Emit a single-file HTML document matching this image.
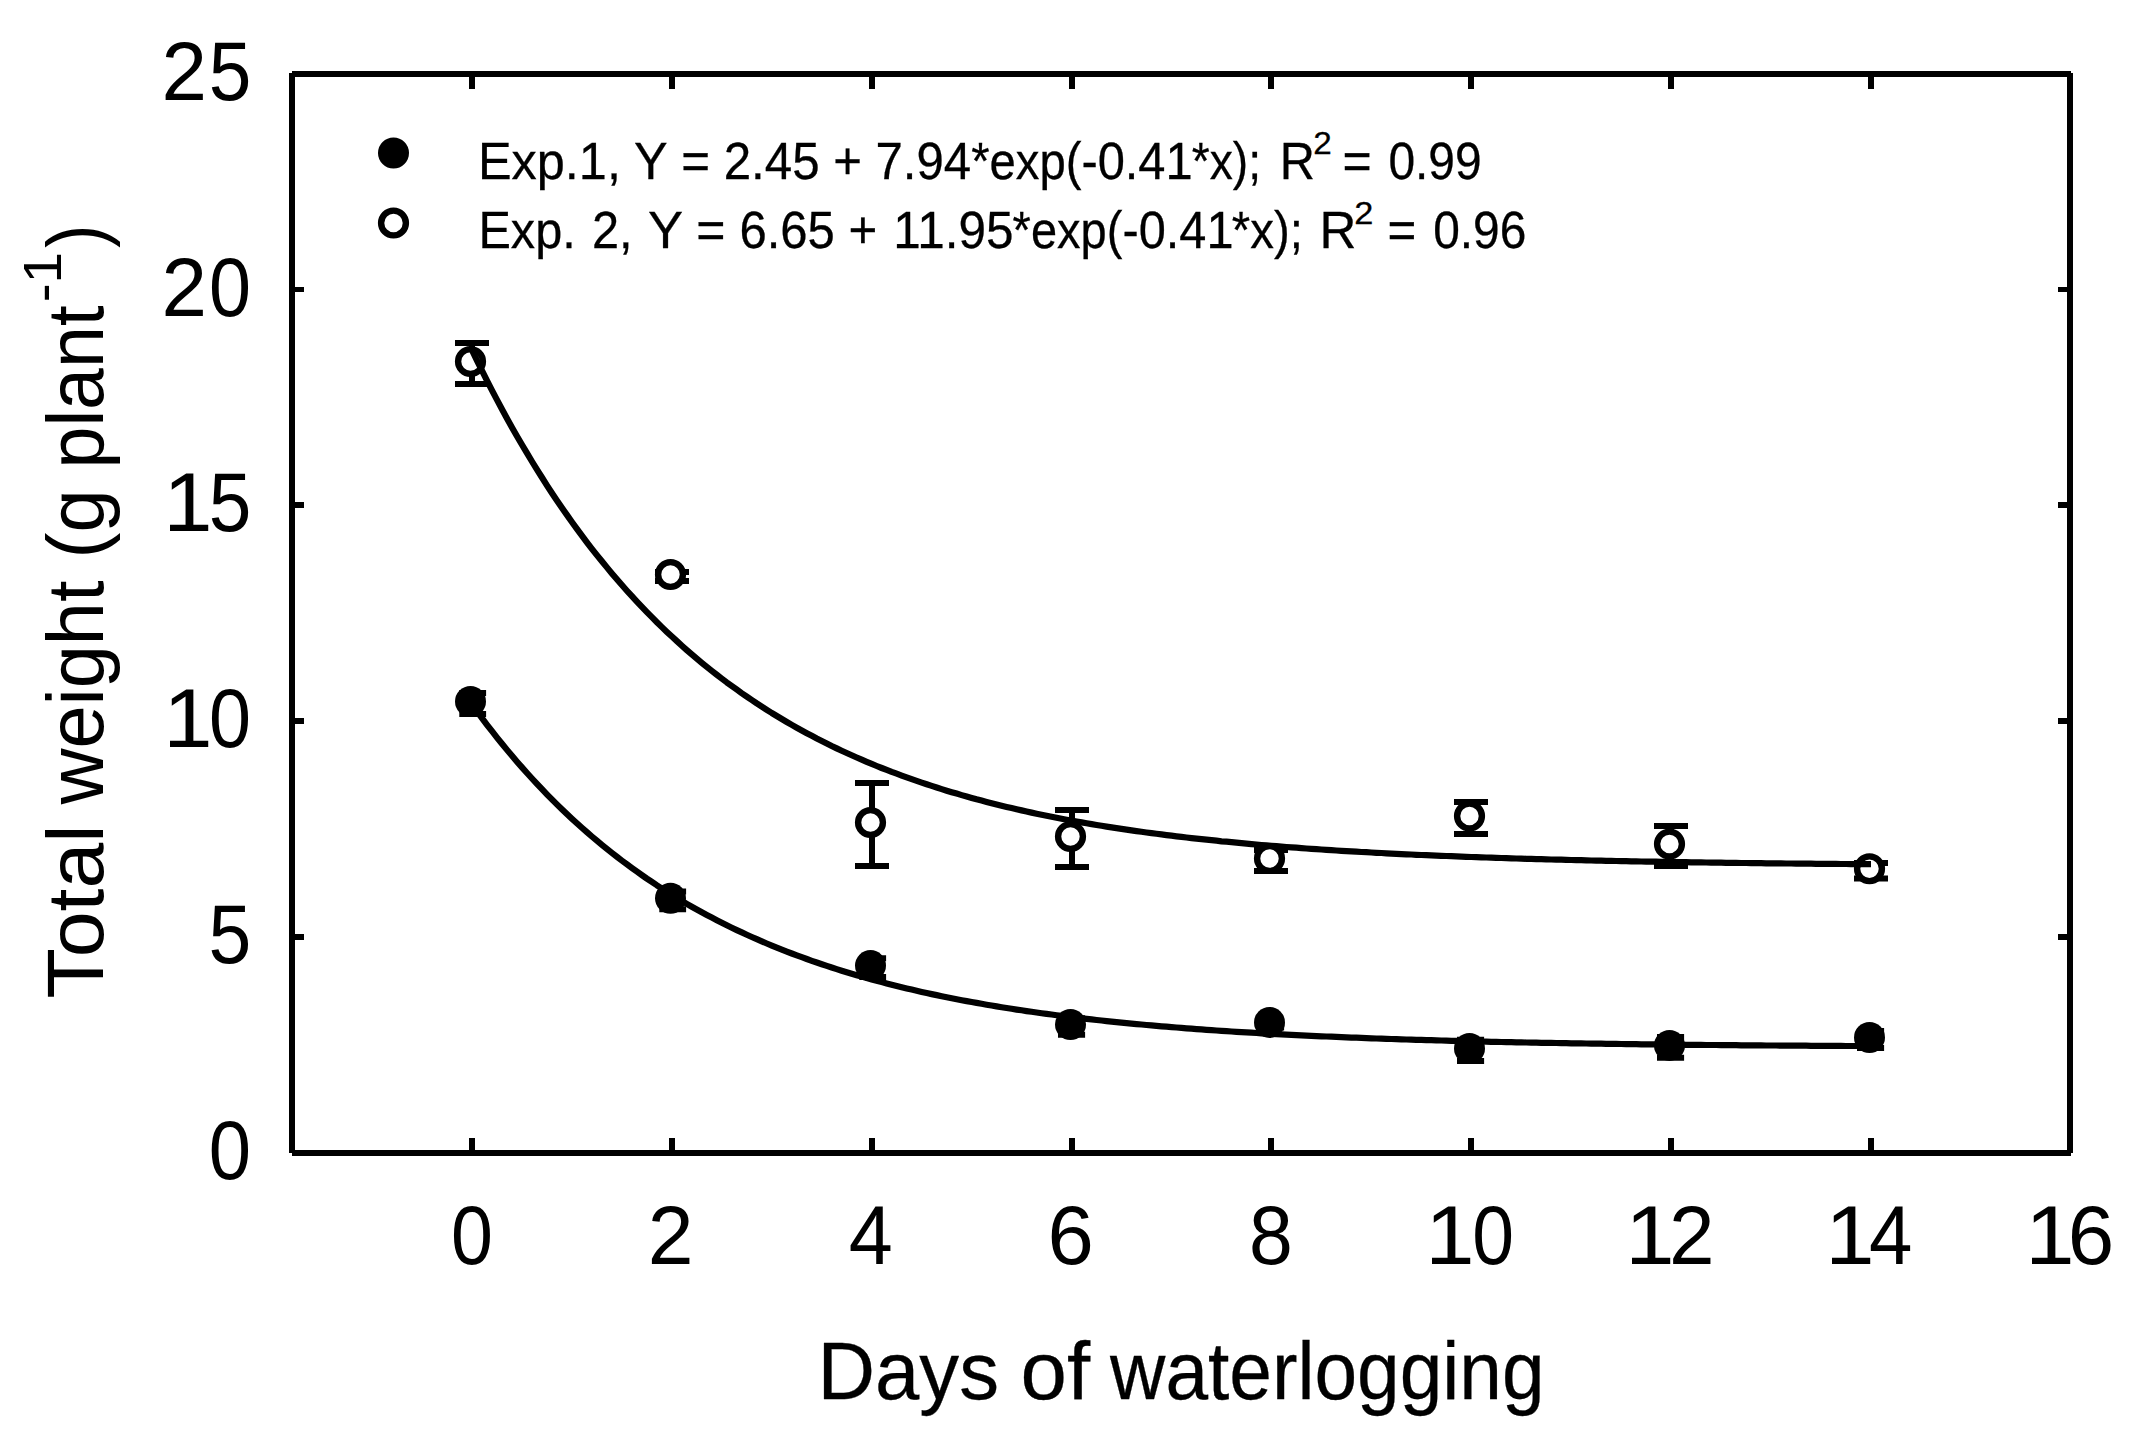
<!DOCTYPE html>
<html lang="en"><head><meta charset="utf-8"><title>Total weight vs days of waterlogging</title>
<style>html,body{margin:0;padding:0;background:#fff}body{width:2149px;height:1443px;overflow:hidden}svg{display:block}text{font-family:"Liberation Sans",sans-serif;fill:#000}</style>
</head><body>
<svg width="2149" height="1443" viewBox="0 0 2149 1443">
<rect width="2149" height="1443" fill="#fff"/>
<g stroke="#000" stroke-width="6" stroke-linecap="butt" fill="none">
<line x1="292" y1="74" x2="2071" y2="74"/>
<line x1="292" y1="1153" x2="2071" y2="1153"/>
<line x1="292" y1="73" x2="292" y2="1153"/>
<line x1="2070" y1="73" x2="2070" y2="1153"/>
<line x1="472" y1="74" x2="472" y2="89"/>
<line x1="472" y1="1138" x2="472" y2="1153"/>
<line x1="672" y1="74" x2="672" y2="89"/>
<line x1="672" y1="1138" x2="672" y2="1153"/>
<line x1="872" y1="74" x2="872" y2="89"/>
<line x1="872" y1="1138" x2="872" y2="1153"/>
<line x1="1072" y1="74" x2="1072" y2="89"/>
<line x1="1072" y1="1138" x2="1072" y2="1153"/>
<line x1="1271" y1="74" x2="1271" y2="89"/>
<line x1="1271" y1="1138" x2="1271" y2="1153"/>
<line x1="1471" y1="74" x2="1471" y2="89"/>
<line x1="1471" y1="1138" x2="1471" y2="1153"/>
<line x1="1671" y1="74" x2="1671" y2="89"/>
<line x1="1671" y1="1138" x2="1671" y2="1153"/>
<line x1="1871" y1="74" x2="1871" y2="89"/>
<line x1="1871" y1="1138" x2="1871" y2="1153"/>
</g>
<g stroke="#000" stroke-linecap="butt" fill="none">
<line x1="292" y1="289.5" x2="304" y2="289.5" stroke-width="5"/>
<line x1="2058" y1="289.5" x2="2070" y2="289.5" stroke-width="5"/>
<line x1="292" y1="505" x2="304" y2="505" stroke-width="6"/>
<line x1="2058" y1="505" x2="2070" y2="505" stroke-width="6"/>
<line x1="292" y1="721" x2="304" y2="721" stroke-width="6"/>
<line x1="2058" y1="721" x2="2070" y2="721" stroke-width="6"/>
<line x1="292" y1="937" x2="304" y2="937" stroke-width="6"/>
<line x1="2058" y1="937" x2="2070" y2="937" stroke-width="6"/>
</g>
<g stroke="#000" stroke-width="6" stroke-linecap="butt" fill="none">
<path d="M455 343H489M455 384H489M472 343V384"/>
<path d="M655 572H689M655 581H689M672 572V581"/>
<path d="M855 783H889M855 866H889M872 783V866"/>
<path d="M1055 810H1089M1055 867H1089M1072 810V867"/>
<path d="M1254 850H1288M1254 871H1288M1271 850V871"/>
<path d="M1454 802H1488M1454 834H1488M1471 802V834"/>
<path d="M1654 826H1688M1654 866H1688M1671 826V866"/>
<path d="M1854 863H1888M1854 878.5H1888M1871 863V878.5"/>
<path d="M459.3 693H486.1M459.3 714H486.1M472 693V714"/>
<path d="M659.3 891.4H686.1M659.3 909.2H686.1M672 891.4V909.2"/>
<path d="M859.3 958.2H886.1M859.3 977H886.1M872 958.2V977"/>
<path d="M1058 1018.3H1085.1M1058 1034.7H1085.1M1072 1018.3V1034.7"/>
<path d="M1257 1021.4H1284.1M1257 1027.4H1284.1M1271 1021.4V1027.4"/>
<path d="M1457 1039.8H1484.1M1457 1061H1484.1M1471 1039.8V1061"/>
<path d="M1657 1037H1684.1M1657 1057.8H1684.1M1671 1037V1057.8"/>
<path d="M1857 1031H1884.1M1857 1048H1884.1M1871 1031V1048"/>
</g>
<g stroke="#000" stroke-width="6.4" fill="#fff">
<circle cx="470.5" cy="361.5" r="12.4"/>
<circle cx="670.5" cy="574.5" r="12.4"/>
<circle cx="870.5" cy="822.5" r="12.4"/>
<circle cx="1070.5" cy="836.5" r="12.4"/>
<circle cx="1269.5" cy="858.5" r="12.4"/>
<circle cx="1469.5" cy="816" r="12.4"/>
<circle cx="1669.5" cy="844" r="12.4"/>
<circle cx="1869.5" cy="868.75" r="12.4"/>
</g>
<g fill="#000">
<circle cx="470.5" cy="701.5" r="15.5"/>
<circle cx="670.5" cy="898.3" r="15.5"/>
<circle cx="870.5" cy="965.6" r="15.5"/>
<circle cx="1070.5" cy="1024.5" r="15.5"/>
<circle cx="1269.5" cy="1022.4" r="15.5"/>
<circle cx="1469.5" cy="1048.4" r="15.5"/>
<circle cx="1669.5" cy="1045.4" r="15.5"/>
<circle cx="1869.5" cy="1037.5" r="15.5"/>
</g>
<g stroke="#000" stroke-width="6.2" stroke-linecap="butt" stroke-linejoin="round" fill="none">
<polyline points="472.0,350.2 477.0,360.6 482.0,370.7 487.0,380.6 492.0,390.4 497.0,399.9 502.0,409.2 507.0,418.4 512.0,427.4 517.0,436.2 522.0,444.8 527.0,453.2 532.0,461.5 537.0,469.6 542.0,477.5 546.9,485.3 551.9,493.0 556.9,500.4 561.9,507.8 566.9,514.9 571.9,522.0 576.9,528.9 581.9,535.6 586.9,542.3 591.9,548.8 596.9,555.1 601.9,561.3 606.9,567.4 611.9,573.4 616.9,579.3 621.9,585.0 626.9,590.7 631.9,596.2 636.9,601.6 641.9,606.9 646.9,612.1 651.9,617.2 656.9,622.2 661.9,627.1 666.9,631.9 671.9,636.5 676.9,641.1 681.9,645.7 686.8,650.1 691.8,654.4 696.8,658.6 701.8,662.8 706.8,666.9 711.8,670.9 716.8,674.8 721.8,678.6 726.8,682.4 731.8,686.0 736.8,689.6 741.8,693.2 746.8,696.6 751.8,700.0 756.8,703.4 761.8,706.6 766.8,709.8 771.8,713.0 776.8,716.0 781.8,719.0 786.8,722.0 791.8,724.9 796.8,727.7 801.8,730.5 806.8,733.2 811.8,735.8 816.8,738.5 821.8,741.0 826.8,743.5 831.7,746.0 836.7,748.4 841.7,750.7 846.7,753.0 851.7,755.3 856.7,757.5 861.7,759.7 866.7,761.8 871.7,763.9 876.7,766.0 881.7,768.0 886.7,769.9 891.7,771.9 896.7,773.7 901.7,775.6 906.7,777.4 911.7,779.2 916.7,780.9 921.7,782.6 926.7,784.3 931.7,785.9 936.7,787.5 941.7,789.1 946.7,790.7 951.7,792.2 956.7,793.6 961.7,795.1 966.7,796.5 971.7,797.9 976.6,799.3 981.6,800.6 986.6,801.9 991.6,803.2 996.6,804.5 1001.6,805.7 1006.6,806.9 1011.6,808.1 1016.6,809.3 1021.6,810.4 1026.6,811.5 1031.6,812.6 1036.6,813.7 1041.6,814.7 1046.6,815.7 1051.6,816.7 1056.6,817.7 1061.6,818.7 1066.6,819.7 1071.6,820.6 1076.6,821.5 1081.6,822.4 1086.6,823.3 1091.6,824.1 1096.6,825.0 1101.6,825.8 1106.6,826.6 1111.6,827.4 1116.5,828.1 1121.5,828.9 1126.5,829.6 1131.5,830.4 1136.5,831.1 1141.5,831.8 1146.5,832.5 1151.5,833.1 1156.5,833.8 1161.5,834.4 1166.5,835.1 1171.5,835.7 1176.5,836.3 1181.5,836.9 1186.5,837.5 1191.5,838.1 1196.5,838.6 1201.5,839.2 1206.5,839.7 1211.5,840.2 1216.5,840.7 1221.5,841.3 1226.5,841.7 1231.5,842.2 1236.5,842.7 1241.5,843.2 1246.5,843.6 1251.5,844.1 1256.5,844.5 1261.4,845.0 1266.4,845.4 1271.4,845.8 1276.4,846.2 1281.4,846.6 1286.4,847.0 1291.4,847.4 1296.4,847.7 1301.4,848.1 1306.4,848.5 1311.4,848.8 1316.4,849.2 1321.4,849.5 1326.4,849.8 1331.4,850.1 1336.4,850.5 1341.4,850.8 1346.4,851.1 1351.4,851.4 1356.4,851.7 1361.4,852.0 1366.4,852.2 1371.4,852.5 1376.4,852.8 1381.4,853.0 1386.4,853.3 1391.4,853.6 1396.4,853.8 1401.3,854.1 1406.3,854.3 1411.3,854.5 1416.3,854.8 1421.3,855.0 1426.3,855.2 1431.3,855.4 1436.3,855.6 1441.3,855.8 1446.3,856.0 1451.3,856.2 1456.3,856.4 1461.3,856.6 1466.3,856.8 1471.3,857.0 1476.3,857.2 1481.3,857.4 1486.3,857.5 1491.3,857.7 1496.3,857.9 1501.3,858.0 1506.3,858.2 1511.3,858.3 1516.3,858.5 1521.3,858.6 1526.3,858.8 1531.3,858.9 1536.3,859.1 1541.3,859.2 1546.2,859.4 1551.2,859.5 1556.2,859.6 1561.2,859.7 1566.2,859.9 1571.2,860.0 1576.2,860.1 1581.2,860.2 1586.2,860.3 1591.2,860.5 1596.2,860.6 1601.2,860.7 1606.2,860.8 1611.2,860.9 1616.2,861.0 1621.2,861.1 1626.2,861.2 1631.2,861.3 1636.2,861.4 1641.2,861.5 1646.2,861.6 1651.2,861.7 1656.2,861.7 1661.2,861.8 1666.2,861.9 1671.2,862.0 1676.2,862.1 1681.2,862.1 1686.1,862.2 1691.1,862.3 1696.1,862.4 1701.1,862.4 1706.1,862.5 1711.1,862.6 1716.1,862.7 1721.1,862.7 1726.1,862.8 1731.1,862.9 1736.1,862.9 1741.1,863.0 1746.1,863.0 1751.1,863.1 1756.1,863.2 1761.1,863.2 1766.1,863.3 1771.1,863.3 1776.1,863.4 1781.1,863.4 1786.1,863.5 1791.1,863.5 1796.1,863.6 1801.1,863.6 1806.1,863.7 1811.1,863.7 1816.1,863.8 1821.1,863.8 1826.1,863.9 1831.0,863.9 1836.0,863.9 1841.0,864.0 1846.0,864.0 1851.0,864.1 1856.0,864.1 1861.0,864.1 1866.0,864.2 1871.0,864.2"/>
<polyline points="472.0,704.6 477.0,711.4 482.0,718.2 487.0,724.8 492.0,731.2 497.0,737.6 502.0,743.8 507.0,749.9 512.0,755.8 517.0,761.7 522.0,767.4 527.0,773.0 532.0,778.5 537.0,783.9 542.0,789.2 546.9,794.3 551.9,799.4 556.9,804.4 561.9,809.2 566.9,814.0 571.9,818.7 576.9,823.3 581.9,827.8 586.9,832.2 591.9,836.5 596.9,840.7 601.9,844.8 606.9,848.9 611.9,852.9 616.9,856.8 621.9,860.6 626.9,864.3 631.9,868.0 636.9,871.6 641.9,875.1 646.9,878.6 651.9,881.9 656.9,885.3 661.9,888.5 666.9,891.7 671.9,894.8 676.9,897.9 681.9,900.9 686.8,903.8 691.8,906.7 696.8,909.5 701.8,912.3 706.8,915.0 711.8,917.6 716.8,920.2 721.8,922.8 726.8,925.3 731.8,927.7 736.8,930.1 741.8,932.4 746.8,934.7 751.8,937.0 756.8,939.2 761.8,941.4 766.8,943.5 771.8,945.6 776.8,947.6 781.8,949.6 786.8,951.6 791.8,953.5 796.8,955.4 801.8,957.2 806.8,959.0 811.8,960.8 816.8,962.5 821.8,964.2 826.8,965.9 831.7,967.5 836.7,969.1 841.7,970.7 846.7,972.2 851.7,973.7 856.7,975.2 861.7,976.6 866.7,978.1 871.7,979.4 876.7,980.8 881.7,982.1 886.7,983.4 891.7,984.7 896.7,986.0 901.7,987.2 906.7,988.4 911.7,989.6 916.7,990.7 921.7,991.9 926.7,993.0 931.7,994.1 936.7,995.1 941.7,996.2 946.7,997.2 951.7,998.2 956.7,999.2 961.7,1000.2 966.7,1001.1 971.7,1002.0 976.6,1002.9 981.6,1003.8 986.6,1004.7 991.6,1005.5 996.6,1006.4 1001.6,1007.2 1006.6,1008.0 1011.6,1008.8 1016.6,1009.6 1021.6,1010.3 1026.6,1011.1 1031.6,1011.8 1036.6,1012.5 1041.6,1013.2 1046.6,1013.9 1051.6,1014.5 1056.6,1015.2 1061.6,1015.8 1066.6,1016.5 1071.6,1017.1 1076.6,1017.7 1081.6,1018.3 1086.6,1018.9 1091.6,1019.4 1096.6,1020.0 1101.6,1020.5 1106.6,1021.1 1111.6,1021.6 1116.5,1022.1 1121.5,1022.6 1126.5,1023.1 1131.5,1023.6 1136.5,1024.1 1141.5,1024.5 1146.5,1025.0 1151.5,1025.4 1156.5,1025.9 1161.5,1026.3 1166.5,1026.7 1171.5,1027.1 1176.5,1027.5 1181.5,1027.9 1186.5,1028.3 1191.5,1028.7 1196.5,1029.1 1201.5,1029.4 1206.5,1029.8 1211.5,1030.1 1216.5,1030.5 1221.5,1030.8 1226.5,1031.2 1231.5,1031.5 1236.5,1031.8 1241.5,1032.1 1246.5,1032.4 1251.5,1032.7 1256.5,1033.0 1261.4,1033.3 1266.4,1033.6 1271.4,1033.8 1276.4,1034.1 1281.4,1034.4 1286.4,1034.6 1291.4,1034.9 1296.4,1035.1 1301.4,1035.4 1306.4,1035.6 1311.4,1035.8 1316.4,1036.1 1321.4,1036.3 1326.4,1036.5 1331.4,1036.7 1336.4,1036.9 1341.4,1037.1 1346.4,1037.4 1351.4,1037.6 1356.4,1037.7 1361.4,1037.9 1366.4,1038.1 1371.4,1038.3 1376.4,1038.5 1381.4,1038.7 1386.4,1038.8 1391.4,1039.0 1396.4,1039.2 1401.3,1039.3 1406.3,1039.5 1411.3,1039.6 1416.3,1039.8 1421.3,1039.9 1426.3,1040.1 1431.3,1040.2 1436.3,1040.4 1441.3,1040.5 1446.3,1040.7 1451.3,1040.8 1456.3,1040.9 1461.3,1041.0 1466.3,1041.2 1471.3,1041.3 1476.3,1041.4 1481.3,1041.5 1486.3,1041.6 1491.3,1041.8 1496.3,1041.9 1501.3,1042.0 1506.3,1042.1 1511.3,1042.2 1516.3,1042.3 1521.3,1042.4 1526.3,1042.5 1531.3,1042.6 1536.3,1042.7 1541.3,1042.8 1546.2,1042.9 1551.2,1042.9 1556.2,1043.0 1561.2,1043.1 1566.2,1043.2 1571.2,1043.3 1576.2,1043.4 1581.2,1043.4 1586.2,1043.5 1591.2,1043.6 1596.2,1043.7 1601.2,1043.7 1606.2,1043.8 1611.2,1043.9 1616.2,1043.9 1621.2,1044.0 1626.2,1044.1 1631.2,1044.1 1636.2,1044.2 1641.2,1044.3 1646.2,1044.3 1651.2,1044.4 1656.2,1044.4 1661.2,1044.5 1666.2,1044.5 1671.2,1044.6 1676.2,1044.7 1681.2,1044.7 1686.1,1044.8 1691.1,1044.8 1696.1,1044.9 1701.1,1044.9 1706.1,1045.0 1711.1,1045.0 1716.1,1045.0 1721.1,1045.1 1726.1,1045.1 1731.1,1045.2 1736.1,1045.2 1741.1,1045.3 1746.1,1045.3 1751.1,1045.3 1756.1,1045.4 1761.1,1045.4 1766.1,1045.5 1771.1,1045.5 1776.1,1045.5 1781.1,1045.6 1786.1,1045.6 1791.1,1045.6 1796.1,1045.7 1801.1,1045.7 1806.1,1045.7 1811.1,1045.8 1816.1,1045.8 1821.1,1045.8 1826.1,1045.8 1831.0,1045.9 1836.0,1045.9 1841.0,1045.9 1846.0,1046.0 1851.0,1046.0 1856.0,1046.0 1861.0,1046.0 1866.0,1046.1 1871.0,1046.1"/>
</g>
<circle cx="393.5" cy="153" r="15.5" fill="#000"/>
<circle cx="393.5" cy="223" r="12.4" fill="#fff" stroke="#000" stroke-width="6.4"/>
<g>
<text id="leg1" stroke="#000" stroke-width="0.3"><tspan x="478.0" y="178.7" font-size="52" textLength="189.6" lengthAdjust="spacingAndGlyphs">Exp.1, Y</tspan> <tspan x="681.2" y="178.7" font-size="52" textLength="138.4" lengthAdjust="spacingAndGlyphs">= 2.45</tspan> <tspan x="833.2" y="178.7" font-size="52" textLength="138.0" lengthAdjust="spacingAndGlyphs">+ 7.94</tspan><tspan x="971.2" y="178.7" font-size="52" textLength="110.3" lengthAdjust="spacingAndGlyphs">*exp(</tspan><tspan x="1081.4" y="178.7" font-size="52" textLength="111.3" lengthAdjust="spacingAndGlyphs">-0.41</tspan><tspan x="1191.7" y="178.7" font-size="52" textLength="69.3" lengthAdjust="spacingAndGlyphs">*x);</tspan> <tspan x="1279.7" y="178.7" font-size="52" textLength="35.2" lengthAdjust="spacingAndGlyphs">R</tspan><tspan x="1313.3" y="153.6" font-size="31" textLength="18.5" lengthAdjust="spacingAndGlyphs">2</tspan> <tspan x="1342.4" y="178.7" font-size="52" textLength="29.2" lengthAdjust="spacingAndGlyphs">=</tspan> <tspan x="1388.4" y="178.7" font-size="52" textLength="93.3" lengthAdjust="spacingAndGlyphs">0.99</tspan></text>
<text id="leg2" stroke="#000" stroke-width="0.3"><tspan x="478.4" y="247.7" font-size="52" textLength="97.3" lengthAdjust="spacingAndGlyphs">Exp.</tspan> <tspan x="592.0" y="247.7" font-size="52" textLength="40.6" lengthAdjust="spacingAndGlyphs">2,</tspan> <tspan x="648.1" y="247.7" font-size="52" textLength="35.1" lengthAdjust="spacingAndGlyphs">Y</tspan> <tspan x="696.2" y="247.7" font-size="52" textLength="29.2" lengthAdjust="spacingAndGlyphs">=</tspan> <tspan x="739.4" y="247.7" font-size="52" textLength="95.4" lengthAdjust="spacingAndGlyphs">6.65</tspan> <tspan x="848.4" y="247.7" font-size="52" textLength="28.8" lengthAdjust="spacingAndGlyphs">+</tspan> <tspan x="893.3" y="247.7" font-size="52" textLength="120.1" lengthAdjust="spacingAndGlyphs">11.95</tspan><tspan x="1012.6" y="247.7" font-size="52" textLength="109.7" lengthAdjust="spacingAndGlyphs">*exp(</tspan><tspan x="1122.5" y="247.7" font-size="52" textLength="111.0" lengthAdjust="spacingAndGlyphs">-0.41</tspan><tspan x="1231.8" y="247.7" font-size="52" textLength="71.1" lengthAdjust="spacingAndGlyphs">*x);</tspan> <tspan x="1319.4" y="247.7" font-size="52" textLength="36.9" lengthAdjust="spacingAndGlyphs">R</tspan><tspan x="1354.2" y="223.7" font-size="31" textLength="19.1" lengthAdjust="spacingAndGlyphs">2</tspan> <tspan x="1387.6" y="247.7" font-size="52" textLength="28.8" lengthAdjust="spacingAndGlyphs">=</tspan> <tspan x="1433.2" y="247.7" font-size="52" textLength="93.2" lengthAdjust="spacingAndGlyphs">0.96</tspan></text>
<text id="xtitle" stroke="#000" stroke-width="0.3"><tspan x="817.4" y="1399.1" font-size="81.5" textLength="181.6" lengthAdjust="spacingAndGlyphs">Days</tspan> <tspan x="1020.6" y="1399.1" font-size="81.5" textLength="69.6" lengthAdjust="spacingAndGlyphs">of</tspan> <tspan x="1110.1" y="1399.1" font-size="81.5" textLength="434.4" lengthAdjust="spacingAndGlyphs">waterlogging</tspan></text>
<text id="ytitle" transform="translate(103.1 0) rotate(-90)"><tspan x="-998.6" y="0.0" font-size="80.5" textLength="174.2" lengthAdjust="spacingAndGlyphs">Total</tspan> <tspan x="-804.6" y="0.0" font-size="80.5" textLength="224.1" lengthAdjust="spacingAndGlyphs">weight</tspan> <tspan x="-558.4" y="0.0" font-size="80.5" textLength="69.3" lengthAdjust="spacingAndGlyphs">(g</tspan> <tspan x="-468.4" y="0.0" font-size="80.5" textLength="163.0" lengthAdjust="spacingAndGlyphs">plant</tspan><tspan x="-302.3" y="-42.0" font-size="53.5" textLength="50.5" lengthAdjust="spacingAndGlyphs">-1</tspan> <tspan x="-248.0" y="0.0" font-size="80.5" textLength="23.3" lengthAdjust="spacingAndGlyphs">)</tspan></text>
<text id="xt0"><tspan x="451.0" y="1263.9" font-size="83.5" textLength="41.9" lengthAdjust="spacingAndGlyphs">0</tspan></text>
<text id="xt2"><tspan x="647.7" y="1263.9" font-size="83.5" textLength="45.8" lengthAdjust="spacingAndGlyphs">2</tspan></text>
<text id="xt4"><tspan x="848.7" y="1263.9" font-size="83.5" textLength="44.0" lengthAdjust="spacingAndGlyphs">4</tspan></text>
<text id="xt6"><tspan x="1047.4" y="1263.9" font-size="83.5" textLength="46.3" lengthAdjust="spacingAndGlyphs">6</tspan></text>
<text id="xt8"><tspan x="1249.1" y="1263.9" font-size="83.5" textLength="43.8" lengthAdjust="spacingAndGlyphs">8</tspan></text>
<text id="xt10"><tspan x="1425.2" y="1263.9" font-size="83.5" textLength="49.3" lengthAdjust="spacingAndGlyphs">1</tspan><tspan x="1472.2" y="1263.9" font-size="83.5" textLength="41.8" lengthAdjust="spacingAndGlyphs">0</tspan></text>
<text id="xt12"><tspan x="1625.2" y="1263.9" font-size="83.5" textLength="49.3" lengthAdjust="spacingAndGlyphs">1</tspan><tspan x="1668.9" y="1263.9" font-size="83.5" textLength="45.6" lengthAdjust="spacingAndGlyphs">2</tspan></text>
<text id="xt14"><tspan x="1825.2" y="1263.9" font-size="83.5" textLength="49.3" lengthAdjust="spacingAndGlyphs">1</tspan><tspan x="1869.0" y="1263.9" font-size="83.5" textLength="43.4" lengthAdjust="spacingAndGlyphs">4</tspan></text>
<text id="xt16"><tspan x="2025.2" y="1263.9" font-size="83.5" textLength="49.3" lengthAdjust="spacingAndGlyphs">1</tspan><tspan x="2067.7" y="1263.9" font-size="83.5" textLength="46.5" lengthAdjust="spacingAndGlyphs">6</tspan></text>
<text id="yt25"><tspan x="161.6" y="100.0" font-size="83.5" textLength="45.5" lengthAdjust="spacingAndGlyphs">2</tspan><tspan x="208.7" y="100.0" font-size="83.5" textLength="42.6" lengthAdjust="spacingAndGlyphs">5</tspan></text>
<text id="yt20"><tspan x="161.6" y="316.0" font-size="83.5" textLength="45.5" lengthAdjust="spacingAndGlyphs">2</tspan><tspan x="209.0" y="316.0" font-size="83.5" textLength="42.0" lengthAdjust="spacingAndGlyphs">0</tspan></text>
<text id="yt15"><tspan x="163.3" y="530.9" font-size="83.5" textLength="49.3" lengthAdjust="spacingAndGlyphs">1</tspan><tspan x="208.7" y="530.9" font-size="83.5" textLength="42.6" lengthAdjust="spacingAndGlyphs">5</tspan></text>
<text id="yt10"><tspan x="163.3" y="746.9" font-size="83.5" textLength="49.3" lengthAdjust="spacingAndGlyphs">1</tspan><tspan x="209.0" y="746.9" font-size="83.5" textLength="42.0" lengthAdjust="spacingAndGlyphs">0</tspan></text>
<text id="yt5"><tspan x="208.5" y="963.3" font-size="83.5" textLength="42.8" lengthAdjust="spacingAndGlyphs">5</tspan></text>
<text id="yt0"><tspan x="208.7" y="1179.4" font-size="83.5" textLength="42.3" lengthAdjust="spacingAndGlyphs">0</tspan></text>
</g>
</svg>
</body></html>
